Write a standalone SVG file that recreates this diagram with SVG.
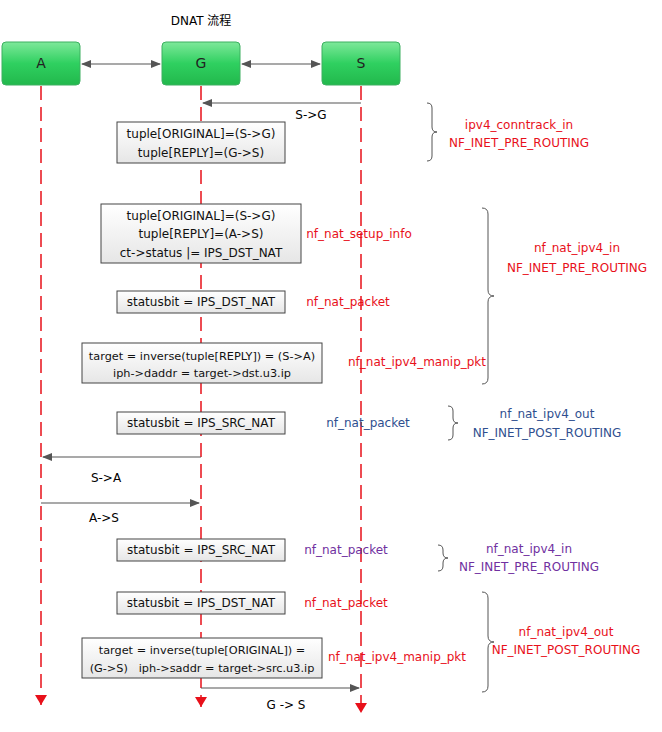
<svg xmlns="http://www.w3.org/2000/svg" width="662" height="732" viewBox="0 0 662 732">
<defs>
<linearGradient id="gg" x1="0" y1="0" x2="0" y2="1"><stop offset="0" stop-color="#7ee89a"/><stop offset="0.5" stop-color="#2fd060"/><stop offset="1" stop-color="#22b84c"/></linearGradient>
<linearGradient id="bg" x1="0" y1="0" x2="0" y2="1"><stop offset="0" stop-color="#ffffff"/><stop offset="1" stop-color="#e6e6e6"/></linearGradient>
<marker id="ah" markerWidth="10" markerHeight="8" refX="9" refY="4" orient="auto-start-reverse" markerUnits="userSpaceOnUse"><path d="M0,0 L10,4 L0,8 z" fill="#555"/></marker>
<marker id="rh" markerWidth="12" markerHeight="10" refX="6" refY="10" orient="0" markerUnits="userSpaceOnUse"><path d="M0,0 L12,0 L6,10 z" fill="#e8101a"/></marker>
</defs>
<style>
text{font-family:"DejaVu Sans","Noto Sans CJK SC",sans-serif;font-size:12px;text-anchor:middle}
.n rect{fill:url(#gg);stroke:#3cb060;stroke-width:1}
.n text{font-size:14px;fill:#222}
.b rect{fill:url(#bg);stroke:#444;stroke-width:1}
.b text{fill:#111}
.w text{font-size:11.3px}
.life{stroke:#e8101a;stroke-width:1.5;stroke-dasharray:14,7;fill:none}
.msg{stroke:#555;stroke-width:1.2;fill:none}
.br{stroke:#555;stroke-width:1;fill:none}
.r{fill:#e8101a}
.bl{fill:#2f4f8f}
.p{fill:#7030a0}
</style>
<text x="201" y="25" style="font-size:12px">DNAT 流程</text>
<g id="A" class="n"><rect x="2" y="42" width="78" height="43" rx="4"/><text x="41" y="68">A</text></g>
<g id="G" class="n"><rect x="162" y="42" width="78" height="43" rx="4"/><text x="201" y="68">G</text></g>
<g id="S" class="n"><rect x="322" y="42" width="78" height="43" rx="4"/><text x="361" y="68">S</text></g>
<g id="lifelines">
<path class="life" d="M41,86 V705" marker-end="url(#rh)"/>
<path class="life" d="M201,86 V707" marker-end="url(#rh)"/>
<path class="life" d="M361,86 V713" marker-end="url(#rh)"/>
</g>
<g id="connectors">
<path class="msg" d="M82,64 H160" marker-start="url(#ah)" marker-end="url(#ah)"/>
<path class="msg" d="M242,64 H320" marker-start="url(#ah)" marker-end="url(#ah)"/>
<path class="msg" d="M361,103 H203" marker-end="url(#ah)"/>
<text x="311" y="119">S-&gt;G</text>
<path class="msg" d="M201,457 H43" marker-end="url(#ah)"/>
<text x="106" y="482">S-&gt;A</text>
<path class="msg" d="M41,503 H199" marker-end="url(#ah)"/>
<text x="104" y="522">A-&gt;S</text>
<path class="msg" d="M201,688 H359" marker-end="url(#ah)"/>
<text x="286" y="709">G -&gt; S</text>
</g>
<g id="box1" class="b"><rect x="117" y="122" width="168" height="41"/><text x="201" y="138">tuple[ORIGINAL]=(S-&gt;G)</text><text x="201" y="157">tuple[REPLY]=(G-&gt;S)</text></g>
<g id="box2" class="b"><rect x="101" y="204" width="200" height="59"/><text x="201" y="220">tuple[ORIGINAL]=(S-&gt;G)</text><text x="201" y="238">tuple[REPLY]=(A-&gt;S)</text><text x="201" y="257">ct-&gt;status |= IPS_DST_NAT</text></g>
<g id="box3" class="b"><rect x="117" y="291" width="168" height="22"/><text x="201" y="306">statusbit = IPS_DST_NAT</text></g>
<g id="box4" class="b w"><rect x="82" y="343" width="240" height="40"/><text x="202" y="360">target = inverse(tuple[REPLY]) = (S-&gt;A)</text><text x="202" y="377">iph-&gt;daddr = target-&gt;dst.u3.ip</text></g>
<g id="box5" class="b"><rect x="117" y="412" width="168" height="22"/><text x="201" y="427">statusbit = IPS_SRC_NAT</text></g>
<g id="box6" class="b"><rect x="117" y="539" width="168" height="22"/><text x="201" y="554">statusbit = IPS_SRC_NAT</text></g>
<g id="box7" class="b"><rect x="117" y="592" width="168" height="22"/><text x="201" y="607">statusbit = IPS_DST_NAT</text></g>
<g id="box8" class="b w"><rect x="82" y="638" width="240" height="40"/><text x="202" y="654">target = inverse(tuple[ORIGINAL]) =</text><text x="202" y="672">(G-&gt;S)&#160;&#160; iph-&gt;saddr = target-&gt;src.u3.ip</text></g>
<g id="labels">
<text class="r" x="359" y="238">nf_nat_setup_info</text>
<text class="r" x="348" y="306">nf_nat_packet</text>
<text class="r" x="417" y="366">nf_nat_ipv4_manip_pkt</text>
<text class="bl" x="368" y="427">nf_nat_packet</text>
<text class="p" x="346" y="554">nf_nat_packet</text>
<text class="r" x="346" y="607">nf_nat_packet</text>
<text class="r" x="397" y="661">nf_nat_ipv4_manip_pkt</text>
</g>
<g id="braces">
<path class="br" d="M427,103 q5,0 5,5 v19 q0,5 5,5 q-5,0 -5,5 v19 q0,5 -5,5"/>
<text class="r" x="519" y="129">ipv4_conntrack_in</text>
<text class="r" x="519" y="147">NF_INET_PRE_ROUTING</text>
<path class="br" d="M482,208 q6,0 6,6 v76 q0,6 6,6 q-6,0 -6,6 v76 q0,6 -6,6"/>
<text class="r" x="577" y="252">nf_nat_ipv4_in</text>
<text class="r" x="577" y="272">NF_INET_PRE_ROUTING</text>
<path class="br" d="M448,406 q5,0 5,5 v7 q0,5 5,5 q-5,0 -5,5 v7 q0,5 -5,5"/>
<text class="bl" x="547" y="418">nf_nat_ipv4_out</text>
<text class="bl" x="547" y="437">NF_INET_POST_ROUTING</text>
<path class="br" d="M438,545 q5,0 5,5 v3 q0,5 5,5 q-5,0 -5,5 v3 q0,5 -5,5"/>
<text class="p" x="529" y="553">nf_nat_ipv4_in</text>
<text class="p" x="529" y="571">NF_INET_PRE_ROUTING</text>
<path class="br" d="M482,592 q6,0 6,6 v38 q0,6 6,6 q-6,0 -6,6 v38 q0,6 -6,6"/>
<text class="r" x="566" y="636">nf_nat_ipv4_out</text>
<text class="r" x="566" y="654">NF_INET_POST_ROUTING</text>
</g>
</svg>
